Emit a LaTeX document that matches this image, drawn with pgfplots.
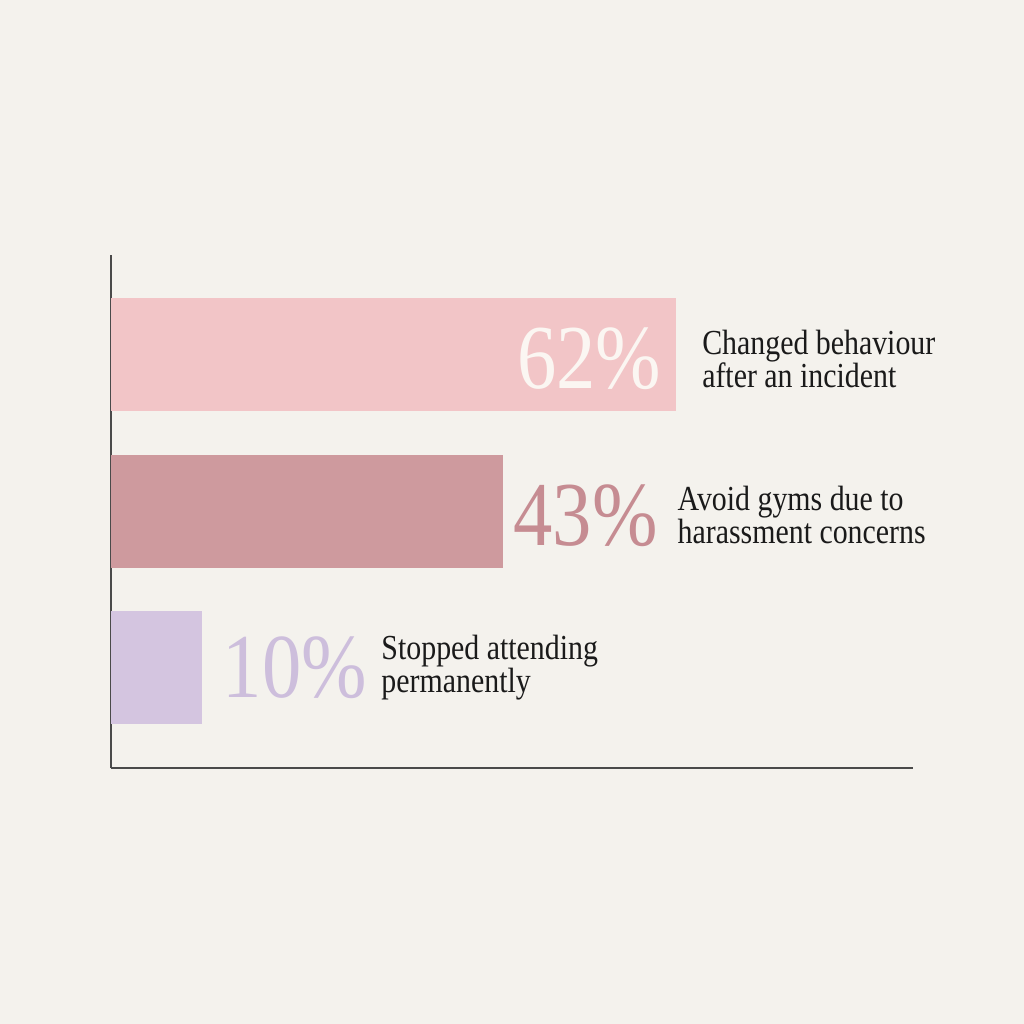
\documentclass[border=0pt]{standalone}
\usepackage{pgfplots}
\pgfplotsset{compat=1.18}
\usepackage{fontspec}
\setmainfont{Liberation Serif}[FakeStretch=0.85]
\newfontfamily\numfont{Liberation Serif}[FakeStretch=0.86]

\definecolor{bgc}{HTML}{F4F2ED}
\definecolor{barA}{HTML}{F2C5C7}
\definecolor{barB}{HTML}{CE9A9E}
\definecolor{barC}{HTML}{D4C5E0}
\definecolor{numA}{HTML}{FBF6F2}
\definecolor{numB}{HTML}{C68C92}
\definecolor{numC}{HTML}{CDBEDC}
\definecolor{axc}{HTML}{4A4A4A}
\definecolor{txt}{HTML}{1A1A1A}

\newcommand{\bignum}{\numfont\fontsize{26}{26}\selectfont}
\newcommand{\catfont}{\fontsize{10}{9.4}\selectfont}

\begin{document}
\begin{tikzpicture}
\fill[bgc] (0,0) rectangle (10.24cm,10.24cm);
\begin{axis}[
    at={(1.11cm,2.56cm)}, anchor=south west,
    scale only axis,
    width=8.02cm, height=5.13cm,
    xmin=0, xmax=88,
    ymin=0.362, ymax=3.635,
    axis x line*=bottom, axis y line*=left,
    x axis line style={-}, y axis line style={-},
    axis line style={draw=axc, line width=0.4pt},
    xtick=\empty, ytick=\empty,
    clip=false,
    point meta=x,
    nodes near coords={\pgfmathprintnumber[assume math mode=true]{\pgfplotspointmeta}\%},
]
% Changed behaviour after an incident
\addplot[xbar, bar shift=0pt, bar width=1.13cm, fill=barA, draw=none,
    every node near coord/.append style={anchor=east, xshift=-1.4mm, yshift=-0.4mm,
        inner sep=0pt, text=numA, font=\bignum}]
    coordinates {(62,3)};
% Avoid gyms due to harassment concerns
\addplot[xbar, bar shift=0pt, bar width=1.13cm, fill=barB, draw=none,
    every node near coord/.append style={anchor=west, xshift=1.0mm, yshift=-0.4mm,
        inner sep=0pt, text=numB, font=\bignum}]
    coordinates {(43,2)};
% Stopped attending permanently
\addplot[xbar, bar shift=0pt, bar width=1.13cm, fill=barC, draw=none,
    every node near coord/.append style={anchor=west, xshift=2.0mm,
        inner sep=0pt, text=numC, font=\bignum}]
    coordinates {(10,1)};

\node[anchor=west, align=left, inner sep=0pt, text=txt, font=\catfont, yshift=-0.4mm]
    at (axis cs:64.8,3) {Changed behaviour\\after an incident};
\node[anchor=west, align=left, inner sep=0pt, text=txt, font=\catfont, yshift=-0.4mm]
    at (axis cs:62.1,2) {Avoid gyms due to\\harassment concerns};
\node[anchor=west, align=left, inner sep=0pt, text=txt, font=\catfont]
    at (axis cs:29.6,1) {Stopped attending\\permanently};
\end{axis}
\end{tikzpicture}
\end{document}
